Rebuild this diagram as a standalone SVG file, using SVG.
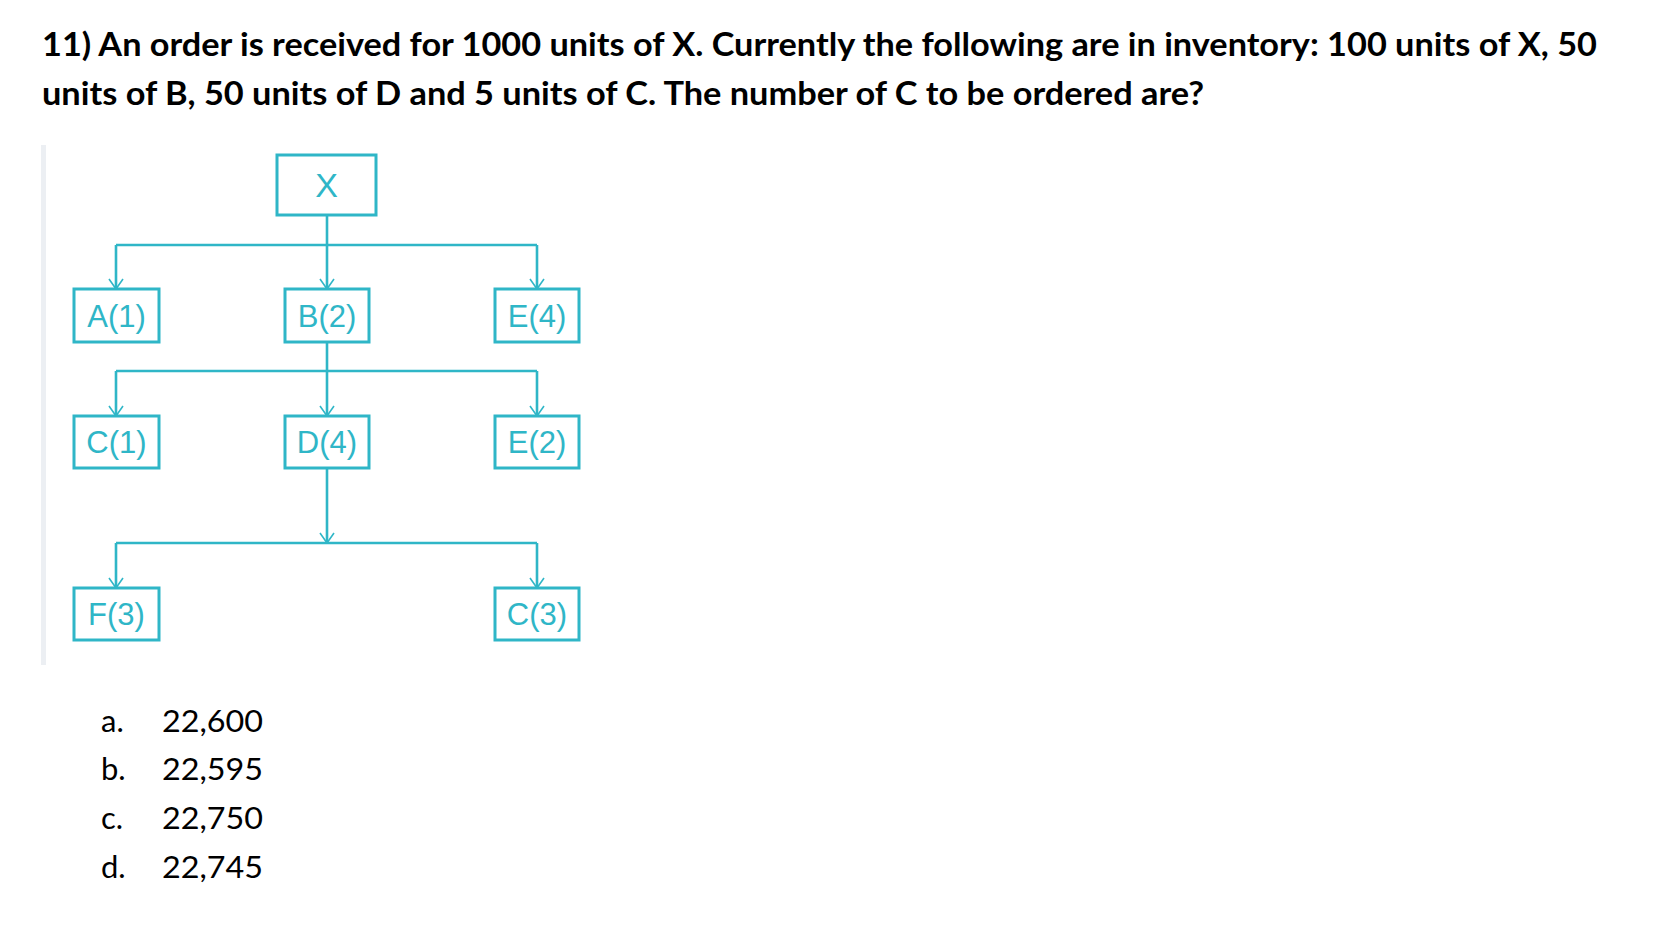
<svg xmlns="http://www.w3.org/2000/svg" width="1656" height="930" viewBox="0 0 1656 930">
<defs>
<style>
.q{font-family:Lato,"Open Sans","Liberation Sans",sans-serif;font-weight:700;font-size:32px;fill:#000}
.opt{font-family:Lato,"Open Sans","Liberation Sans",sans-serif;font-size:31px;fill:#000}
.box{fill:#fff;stroke:#2fb6c7;stroke-width:3}
.lbl{font-family:"Liberation Sans",Arial,sans-serif;font-size:31px;fill:#2fb6c7;text-anchor:middle}
.ln{fill:none;stroke:#2fb6c7;stroke-width:2.6}
</style>
<marker id="ah" viewBox="0 0 12 16" refX="11" refY="8" markerWidth="12" markerHeight="16" markerUnits="userSpaceOnUse" orient="auto">
<path d="M1,1 L11,8 L1,15" fill="none" stroke="#2fb6c7" stroke-width="1.6"/>
</marker>
</defs>
<rect width="1656" height="930" fill="#fff"/>
<text class="q" x="42" y="56" textLength="1555" lengthAdjust="spacingAndGlyphs">11) An order is received for 1000 units of X. Currently the following are in inventory: 100 units of X, 50</text>
<text class="q" x="42" y="105" textLength="1162" lengthAdjust="spacingAndGlyphs">units of B, 50 units of D and 5 units of C. The number of C to be ordered are?</text>
<rect x="41" y="145" width="5" height="520" fill="#eceff3"/>
<g id="connectors">
<path class="ln" d="M327,215 V289" marker-end="url(#ah)"/>
<path class="ln" d="M116,245 H537"/>
<path class="ln" d="M116,245 V289" marker-end="url(#ah)"/>
<path class="ln" d="M537,245 V289" marker-end="url(#ah)"/>
<path class="ln" d="M327,342 V416" marker-end="url(#ah)"/>
<path class="ln" d="M116,371 H537"/>
<path class="ln" d="M116,371 V416" marker-end="url(#ah)"/>
<path class="ln" d="M537,371 V416" marker-end="url(#ah)"/>
<path class="ln" d="M327,468 V543" marker-end="url(#ah)"/>
<path class="ln" d="M116,543 H537"/>
<path class="ln" d="M116,543 V588" marker-end="url(#ah)"/>
<path class="ln" d="M537,543 V588" marker-end="url(#ah)"/>
</g>
<g id="node-X"><rect class="box" x="277" y="155" width="99" height="60"/><text class="lbl" x="326.5" y="197" style="font-size:34px">X</text></g>
<g id="node-A1"><rect class="box" x="74" y="289" width="85" height="53"/><text class="lbl" x="116.5" y="327">A(1)</text></g>
<g id="node-B2"><rect class="box" x="285" y="289" width="84" height="53"/><text class="lbl" x="327" y="327">B(2)</text></g>
<g id="node-E4"><rect class="box" x="495" y="289" width="84" height="53"/><text class="lbl" x="537" y="327">E(4)</text></g>
<g id="node-C1"><rect class="box" x="74" y="416" width="85" height="52"/><text class="lbl" x="116.5" y="453">C(1)</text></g>
<g id="node-D4"><rect class="box" x="285" y="416" width="84" height="52"/><text class="lbl" x="327" y="453">D(4)</text></g>
<g id="node-E2"><rect class="box" x="495" y="416" width="84" height="52"/><text class="lbl" x="537" y="453">E(2)</text></g>
<g id="node-F3"><rect class="box" x="74" y="588" width="85" height="52"/><text class="lbl" x="116.5" y="625">F(3)</text></g>
<g id="node-C3"><rect class="box" x="495" y="588" width="84" height="52"/><text class="lbl" x="537" y="625">C(3)</text></g>
<text class="opt" x="101" y="732">a.</text><text class="opt" x="162" y="732" textLength="101" lengthAdjust="spacingAndGlyphs">22,600</text>
<text class="opt" x="101" y="780">b.</text><text class="opt" x="162" y="780" textLength="101" lengthAdjust="spacingAndGlyphs">22,595</text>
<text class="opt" x="101" y="829">c.</text><text class="opt" x="162" y="829" textLength="101" lengthAdjust="spacingAndGlyphs">22,750</text>
<text class="opt" x="101" y="878">d.</text><text class="opt" x="162" y="878" textLength="101" lengthAdjust="spacingAndGlyphs">22,745</text>
</svg>
